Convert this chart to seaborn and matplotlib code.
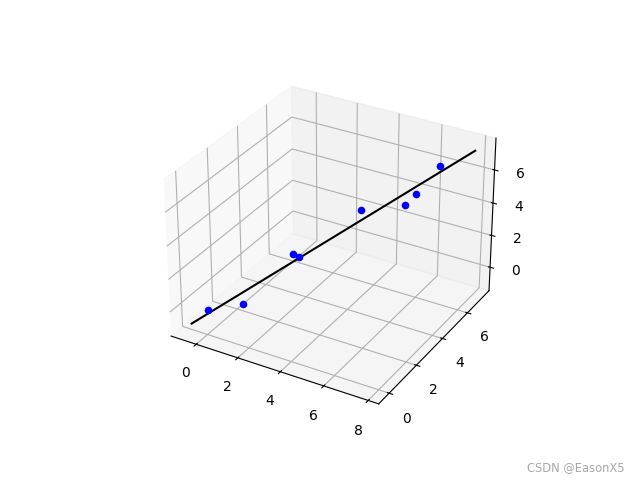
import numpy as np
import seaborn as sns
import matplotlib.pyplot as plt

sns.reset_defaults()

# points
xs = [0.09, 1.41, 2.39, 2.83, 4.62, 6.30, 6.53, 6.69]
ys = [0.0, 0.5, 2.5, 2.3, 4.0, 4.5, 5.0, 6.5]
zs = [0.08, 0.60, 2.47, 2.59, 4.88, 5.43, 5.8, 6.51]

line_x = [-0.61, 7.85]
line_y = [-0.2, 7.25]
line_z = [-0.9, 7.3]

fig = plt.figure()
ax = fig.add_subplot(projection='3d')
ax.scatter(xs, ys, zs, c='b', depthshade=False)
ax.plot(line_x, line_y, line_z, c='k')

ax.set_xticks([0, 2, 4, 6, 8])
ax.set_yticks([0, 2, 4, 6])
ax.set_zticks([0, 2, 4, 6])

fig.text(0.976, 0.027, 'CSDN @EasonX5', ha='right', va='center', fontsize=8.3, color='#a8a8a8')
fig.savefig('out.png', dpi=100)
